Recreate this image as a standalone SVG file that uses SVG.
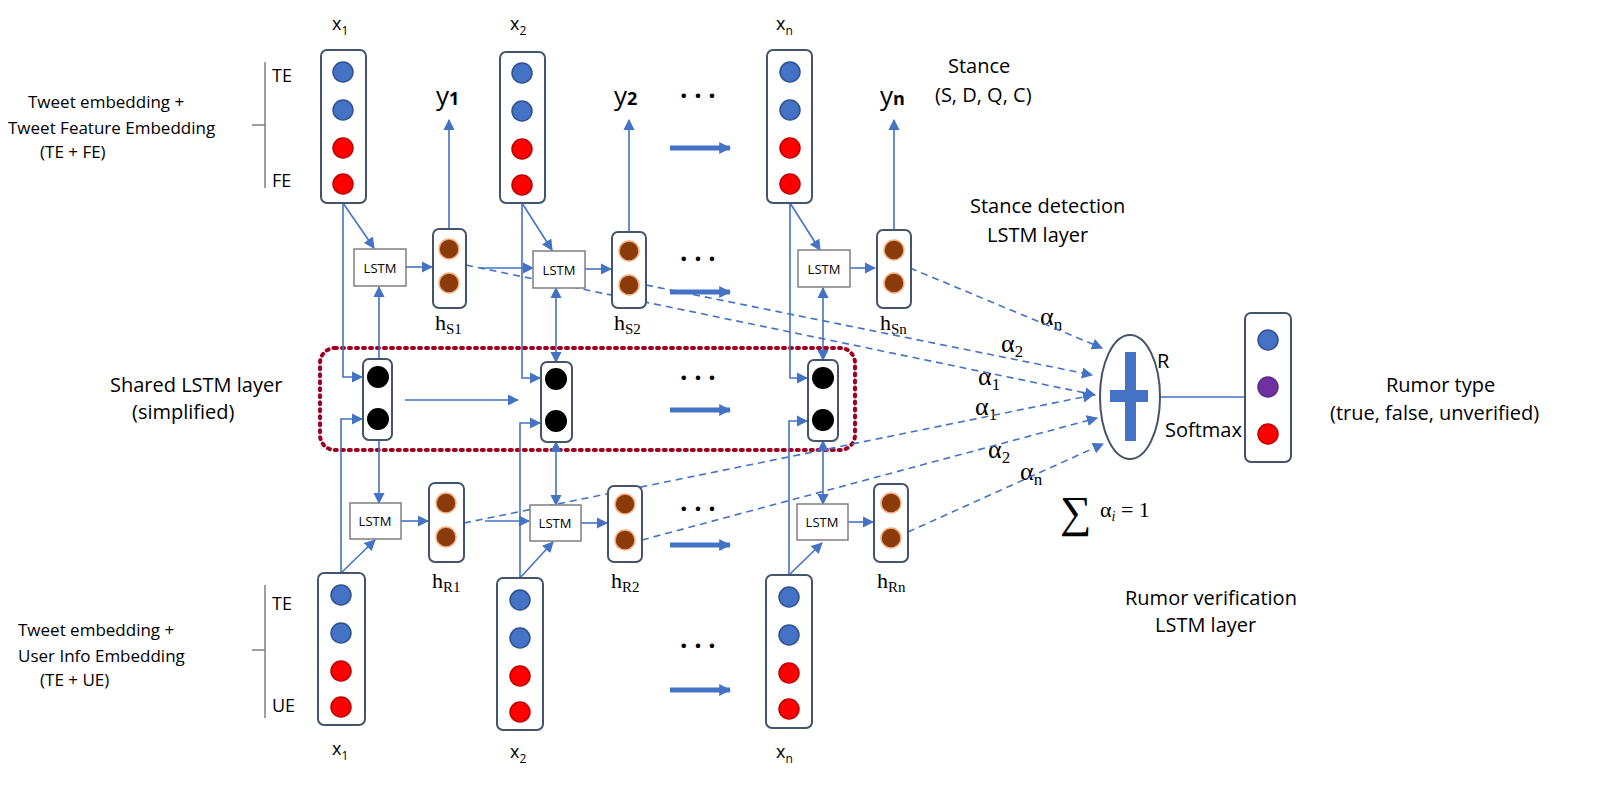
<svg xmlns="http://www.w3.org/2000/svg" width="1599" height="786" viewBox="0 0 1599 786">
<defs>
<marker id="a" viewBox="0 0 10 10" refX="9" refY="5" markerWidth="7" markerHeight="7" orient="auto-start-reverse"><path d="M0,0L10,5L0,10z" fill="#4472C4"/></marker>
<marker id="b" viewBox="0 0 10 10" refX="9" refY="5" markerWidth="12" markerHeight="12" markerUnits="userSpaceOnUse" orient="auto"><path d="M0,0L10,5L0,10z" fill="#4472C4"/></marker>
<style>
.box{fill:#fff;stroke:#44546A;stroke-width:2}
.bl{fill:#4472C4;stroke:#2F528F;stroke-width:1.5}
.rd{fill:#FF0000;stroke:#C00000;stroke-width:1.5}
.br{fill:#8B3A0A;stroke:#F4B183;stroke-width:1.5}
.bk{fill:#000}
.ls{fill:#fff;stroke:#7F7F7F;stroke-width:1.5}
.c{stroke:#4472C4;stroke-width:1.6;fill:none}
.ar{marker-end:url(#a)}
.d{stroke:#4472C4;stroke-width:1.6;fill:none;stroke-dasharray:7,5}
.t{font-family:"Open Sans","Liberation Sans",sans-serif;fill:#000}
.s{font-family:"Liberation Serif",serif;fill:#000}
.big{stroke:#4472C4;stroke-width:5;marker-end:url(#b)}
</style>
</defs>
<g id="labels">
<text class="t" x="28" y="108" font-size="17">Tweet embedding +</text>
<text class="t" x="8" y="134" font-size="17">Tweet Feature Embedding</text>
<text class="t" x="40" y="158" font-size="17">(TE + FE)</text>
<text class="t" x="272" y="82" font-size="18">TE</text>
<text class="t" x="272" y="187" font-size="18">FE</text>
<path d="M265,62V188M265,125H252" stroke="#7F7F7F" fill="none" stroke-width="1.5"/>
<text class="t" x="18" y="636" font-size="17">Tweet embedding +</text>
<text class="t" x="18" y="662" font-size="17">User Info Embedding</text>
<text class="t" x="40" y="686" font-size="17">(TE + UE)</text>
<text class="t" x="272" y="610" font-size="18">TE</text>
<text class="t" x="272" y="712" font-size="18">UE</text>
<path d="M265,585V718M265,650H252" stroke="#7F7F7F" fill="none" stroke-width="1.5"/>
<text class="t" x="110" y="392" font-size="20">Shared LSTM layer</text>
<text class="t" x="132" y="419" font-size="20">(simplified)</text>
<text class="t" x="332" y="30" font-size="18">x<tspan font-size="12" dy="5">1</tspan></text>
<text class="t" x="510" y="30" font-size="18">x<tspan font-size="12" dy="5">2</tspan></text>
<text class="t" x="776" y="30" font-size="18">x<tspan font-size="12" dy="5">n</tspan></text>
<text class="t" x="332" y="755" font-size="18">x<tspan font-size="12" dy="5">1</tspan></text>
<text class="t" x="510" y="758" font-size="18">x<tspan font-size="12" dy="5">2</tspan></text>
<text class="t" x="776" y="758" font-size="18">x<tspan font-size="12" dy="5">n</tspan></text>
<text class="t" x="436" y="105" font-size="26">y<tspan font-size="18" font-weight="bold">1</tspan></text>
<text class="t" x="614" y="105" font-size="26">y<tspan font-size="18" font-weight="bold">2</tspan></text>
<text class="t" x="880" y="105" font-size="26">y<tspan font-size="18" font-weight="bold">n</tspan></text>
<text class="t" x="948" y="73" font-size="20">Stance</text>
<text class="t" x="935" y="102" font-size="20">(S, D, Q, C)</text>
<text class="t" x="970" y="213" font-size="20">Stance detection</text>
<text class="t" x="987" y="242" font-size="20">LSTM layer</text>
<text class="t" x="1125" y="605" font-size="20">Rumor verification</text>
<text class="t" x="1155" y="632" font-size="20">LSTM layer</text>
<text class="t" x="1386" y="392" font-size="20">Rumor type</text>
<text class="t" x="1330" y="420" font-size="20">(true, false, unverified)</text>
<text class="t" x="1157" y="368" font-size="20">R</text>
<text class="t" x="1165" y="437" font-size="20">Softmax</text>
<text class="s" x="1060" y="527" font-size="44">∑</text>
<text class="s" x="1100" y="517" font-size="22">α<tspan font-size="14" dy="4" font-style="italic">i</tspan><tspan dy="-4"> = 1</tspan></text>
<g class="s" font-size="26">
<text x="1040" y="325">α<tspan font-size="17" dy="5">n</tspan></text>
<text x="1001" y="352">α<tspan font-size="17" dy="5">2</tspan></text>
<text x="978" y="385">α<tspan font-size="17" dy="5">1</tspan></text>
<text x="975" y="415">α<tspan font-size="17" dy="5">1</tspan></text>
<text x="988" y="458">α<tspan font-size="17" dy="5">2</tspan></text>
<text x="1020" y="480">α<tspan font-size="17" dy="5">n</tspan></text>
</g>
<g class="s" font-size="22">
<text x="435" y="330">h<tspan font-size="15" dy="4">S1</tspan></text>
<text x="614" y="330">h<tspan font-size="15" dy="4">S2</tspan></text>
<text x="880" y="330">h<tspan font-size="15" dy="4">Sn</tspan></text>
<text x="432" y="588">h<tspan font-size="15" dy="4">R1</tspan></text>
<text x="611" y="588">h<tspan font-size="15" dy="4">R2</tspan></text>
<text x="877" y="588">h<tspan font-size="15" dy="4">Rn</tspan></text>
</g>
<g class="t" font-size="26" font-weight="bold">
<text x="680" y="105">· · ·</text><text x="680" y="268">· · ·</text><text x="680" y="387">· · ·</text><text x="680" y="518">· · ·</text><text x="680" y="655">· · ·</text>
</g>
</g>
<rect id="shared-region" x="320" y="348" width="535" height="102" rx="15" fill="none" stroke="#A00020" stroke-width="4" stroke-dasharray="2,5" stroke-linecap="round"/>
<g id="connectors">
<path class="c ar" d="M343,203L374,248"/><path class="c ar" d="M522,203L552,250"/><path class="c ar" d="M790,203L820,250"/>
<path class="c ar" d="M343,203V377H362"/><path class="c ar" d="M522,203V378H540"/><path class="c ar" d="M790,203V378H807"/>
<path class="c ar" d="M341,573V419H362"/><path class="c ar" d="M520,578V423H540"/><path class="c ar" d="M789,575V421H807"/>
<path class="c ar" d="M341,573L375,540"/><path class="c ar" d="M520,578L553,542"/><path class="c ar" d="M789,575L822,543"/>
<path class="c ar" d="M379,359V287"/><path class="c ar" d="M556,362V288" marker-start="url(#a)"/><path class="c ar" d="M823,360V288" marker-start="url(#a)"/>
<path class="c ar" d="M379,440V503"/><path class="c ar" d="M556,442V505" marker-start="url(#a)"/><path class="c ar" d="M823,441V504" marker-start="url(#a)"/>
<path class="c ar" d="M406,267H432"/><path class="c ar" d="M585,269H611"/><path class="c ar" d="M850,268H875"/>
<path class="c ar" d="M401,521H428"/><path class="c ar" d="M581,523H607"/><path class="c ar" d="M848,522H873"/>
<path class="c ar" d="M449,229V120"/><path class="c ar" d="M629,232V120"/><path class="c ar" d="M894,230V120"/>
<path class="c ar" d="M480,268H533"/><path class="c ar" d="M485,521H529"/><path class="c ar" d="M405,400H518"/>
<path class="big" d="M670,148H730"/><path class="big" d="M670,292H730"/><path class="big" d="M670,410H730"/><path class="big" d="M670,545H730"/><path class="big" d="M670,690H730"/>
<path class="d ar" d="M466,265L1095,395"/><path class="d ar" d="M646,285L1092,375"/><path class="d ar" d="M910,268L1102,348"/>
<path class="d ar" d="M464,523L1093,395"/><path class="d ar" d="M642,540L1097,418"/><path class="d ar" d="M908,532L1103,444"/>
<path class="c" d="M1160,397H1245"/>
</g>
<g id="x1-top"><rect class="box" x="321" y="50" width="45" height="153" rx="6"/><circle class="bl" cx="343" cy="72" r="10"/><circle class="bl" cx="343" cy="110" r="10"/><circle class="rd" cx="343" cy="148" r="10"/><circle class="rd" cx="343" cy="184" r="10"/></g>
<g id="x2-top"><rect class="box" x="500" y="52" width="45" height="151" rx="6"/><circle class="bl" cx="522" cy="73" r="10"/><circle class="bl" cx="522" cy="111" r="10"/><circle class="rd" cx="522" cy="149" r="10"/><circle class="rd" cx="522" cy="185" r="10"/></g>
<g id="xn-top"><rect class="box" x="767" y="50" width="45" height="153" rx="6"/><circle class="bl" cx="790" cy="72" r="10"/><circle class="bl" cx="790" cy="110" r="10"/><circle class="rd" cx="790" cy="148" r="10"/><circle class="rd" cx="790" cy="184" r="10"/></g>
<g id="x1-bot"><rect class="box" x="318" y="573" width="47" height="152" rx="6"/><circle class="bl" cx="341" cy="595" r="10"/><circle class="bl" cx="341" cy="633" r="10"/><circle class="rd" cx="341" cy="671" r="10"/><circle class="rd" cx="341" cy="707" r="10"/></g>
<g id="x2-bot"><rect class="box" x="497" y="578" width="46" height="152" rx="6"/><circle class="bl" cx="520" cy="600" r="10"/><circle class="bl" cx="520" cy="638" r="10"/><circle class="rd" cx="520" cy="676" r="10"/><circle class="rd" cx="520" cy="712" r="10"/></g>
<g id="xn-bot"><rect class="box" x="766" y="575" width="46" height="153" rx="6"/><circle class="bl" cx="789" cy="597" r="10"/><circle class="bl" cx="789" cy="635" r="10"/><circle class="rd" cx="789" cy="673" r="10"/><circle class="rd" cx="789" cy="709" r="10"/></g>
<g id="lstm-s1"><rect class="ls" x="354" y="249" width="52" height="37"/><text class="t" x="380" y="273" font-size="13" text-anchor="middle">LSTM</text></g>
<g id="lstm-s2"><rect class="ls" x="533" y="251" width="52" height="37"/><text class="t" x="559" y="275" font-size="13" text-anchor="middle">LSTM</text></g>
<g id="lstm-sn"><rect class="ls" x="798" y="250" width="52" height="37"/><text class="t" x="824" y="274" font-size="13" text-anchor="middle">LSTM</text></g>
<g id="lstm-r1"><rect class="ls" x="350" y="503" width="51" height="36"/><text class="t" x="375" y="526" font-size="13" text-anchor="middle">LSTM</text></g>
<g id="lstm-r2"><rect class="ls" x="530" y="505" width="51" height="36"/><text class="t" x="555" y="528" font-size="13" text-anchor="middle">LSTM</text></g>
<g id="lstm-rn"><rect class="ls" x="797" y="504" width="51" height="36"/><text class="t" x="822" y="527" font-size="13" text-anchor="middle">LSTM</text></g>
<g id="hs1"><rect class="box" x="433" y="229" width="33" height="79" rx="6"/><circle class="br" cx="449" cy="249" r="10"/><circle class="br" cx="449" cy="283" r="10"/></g>
<g id="hs2"><rect class="box" x="612" y="232" width="34" height="76" rx="6"/><circle class="br" cx="629" cy="251" r="10"/><circle class="br" cx="629" cy="285" r="10"/></g>
<g id="hsn"><rect class="box" x="877" y="230" width="34" height="78" rx="6"/><circle class="br" cx="894" cy="250" r="10"/><circle class="br" cx="894" cy="283" r="10"/></g>
<g id="hr1"><rect class="box" x="429" y="483" width="35" height="79" rx="6"/><circle class="br" cx="446" cy="503" r="10"/><circle class="br" cx="446" cy="537" r="10"/></g>
<g id="hr2"><rect class="box" x="608" y="486" width="34" height="76" rx="6"/><circle class="br" cx="625" cy="504" r="10"/><circle class="br" cx="625" cy="540" r="10"/></g>
<g id="hrn"><rect class="box" x="874" y="484" width="34" height="78" rx="6"/><circle class="br" cx="891" cy="503" r="10"/><circle class="br" cx="891" cy="538" r="10"/></g>
<g id="sh1"><rect class="box" x="363" y="359" width="29" height="81" rx="6"/><circle class="bk" cx="378" cy="377" r="11"/><circle class="bk" cx="378" cy="419" r="11"/></g>
<g id="sh2"><rect class="box" x="541" y="362" width="31" height="80" rx="6"/><circle class="bk" cx="556" cy="379" r="11"/><circle class="bk" cx="556" cy="421" r="11"/></g>
<g id="shn"><rect class="box" x="808" y="360" width="30" height="81" rx="6"/><circle class="bk" cx="823" cy="378" r="11"/><circle class="bk" cx="823" cy="420" r="11"/></g>
<g id="sum"><ellipse cx="1130" cy="397" rx="30" ry="62" fill="#fff" stroke="#44546A" stroke-width="2"/><rect x="1125" y="352" width="11" height="89" fill="#4472C4"/><rect x="1110" y="390" width="38" height="12" fill="#4472C4"/></g>
<g id="output"><rect class="box" x="1245" y="313" width="46" height="149" rx="6"/><circle class="bl" cx="1268" cy="340" r="10"/><circle cx="1268" cy="387" r="10" fill="#7030A0" stroke="#5B2C86" stroke-width="1.5"/><circle class="rd" cx="1268" cy="434" r="10"/></g>
</svg>
